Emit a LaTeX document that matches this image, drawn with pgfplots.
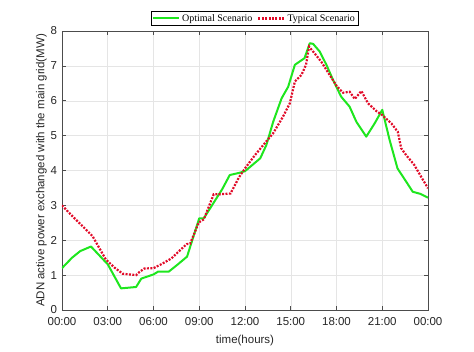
\documentclass[border=0pt]{standalone}
\usepackage{fontspec}
\setmainfont{Liberation Sans}
\newfontfamily\timesfont{Liberation Serif}
\usepackage{pgfplots}
\pgfplotsset{compat=1.18}
\definecolor{optgreen}{RGB}{30,230,30}
\definecolor{typred}{RGB}{225,10,40}
\begin{document}
\begin{tikzpicture}
\begin{axis}[
  at={(0pt,0pt)}, anchor=south west,
  width=366pt, height=279pt, scale only axis,
  xmin=0, xmax=24, ymin=0, ymax=8,
  xtick={0,3,6,9,12,15,18,21,24},
  xticklabels={00:00,03:00,06:00,09:00,12:00,15:00,18:00,21:00,00:00},
  ytick={0,1,2,3,4,5,6,7,8},
  grid=major,
  major grid style={gray!20, line width=0.5pt},
  axis line style={black!70, line width=0.6pt},
  tick style={black!70, line width=0.6pt},
  tick align=inside,
  major tick length=4pt,
  ticklabel style={font=\fontsize{11.5}{13}\selectfont, text=black!85},
  xticklabel style={yshift=-4pt},
  yticklabel style={xshift=-1.5pt},
  /pgf/number format/assume math mode=true,
  xlabel={time(hours)},
  ylabel={ADN active power exchanged with the main grid(MW)},
  label style={font=\fontsize{11.5}{13}\selectfont, text=black!85},
  xlabel style={yshift=-3pt},
  ylabel style={yshift=-3pt},
  legend columns=2,
  legend style={at={(0.526,1)}, anchor=south, yshift=5pt,
    font=\timesfont\fontsize{10}{12}\selectfont,
    draw=black, line width=0.6pt, inner sep=1pt,
    /tikz/every even column/.append style={column sep=3pt}},
  legend image code/.code={\draw[#1] (0pt,0pt) -- (26pt,0pt);},
]
\addplot[optgreen, line width=2pt, line join=round] coordinates {
(0,1.2) (0.66,1.5) (1.2,1.69) (1.9,1.82) (3.0,1.31) (3.87,0.62) (4.86,0.66)
(5.2,0.9) (6,1.02) (6.3,1.1) (7,1.1) (7.6,1.31) (8.2,1.53) (9,2.63) (9.3,2.63)
(9.95,3.08) (10.5,3.46) (11,3.87) (11.6,3.93) (12,3.98) (13,4.35) (13.4,4.73)
(13.85,5.4) (14.4,6.07) (14.83,6.4) (15.27,7.03) (15.5,7.1) (15.9,7.22)
(16.25,7.65) (16.47,7.63) (16.9,7.41) (17.34,7.03) (17.77,6.6) (18.3,6.12)
(18.86,5.83) (19.3,5.4) (19.95,4.97) (20.5,5.35) (21,5.74) (21.48,4.88)
(22.0,4.06) (22.57,3.68) (23.0,3.39) (23.5,3.33) (24,3.22)
};
\addlegendentry{Optimal Scenario}
\addplot[typred, line width=2.2pt, dash pattern=on 2pt off 1.4pt] coordinates {
(0,3.0) (0.66,2.7) (1.33,2.41) (1.88,2.17) (2,2.12) (2.87,1.45) (3.43,1.22)
(3.98,1.04) (4.86,1.0) (5.08,1.09) (5.4,1.19) (6,1.2) (6.5,1.31) (7.18,1.48)
(7.73,1.71) (8.18,1.89) (8.4,1.9) (8.97,2.51) (9.3,2.6) (9.95,3.32) (10.4,3.32)
(11.05,3.34) (11.6,3.8) (12,4.06) (12.65,4.44) (13.2,4.73) (13.85,5.07)
(14.5,5.55) (14.94,5.93) (15.27,6.55) (15.7,6.74) (16.0,7.03) (16.2,7.55)
(16.47,7.41) (17.0,7.12) (17.55,6.74) (18.03,6.41) (18.43,6.23) (18.86,6.26)
(19.2,6.05) (19.63,6.28) (20.06,5.93) (20.6,5.71) (21,5.59) (21.6,5.35)
(22.02,5.11) (22.24,4.64) (22.57,4.44) (23.1,4.16) (23.55,3.82) (24,3.49)
};
\addlegendentry{Typical Scenario}
\end{axis}
\path (-62pt,-41pt) rectangle (412pt,310pt);
\end{tikzpicture}
\end{document}
